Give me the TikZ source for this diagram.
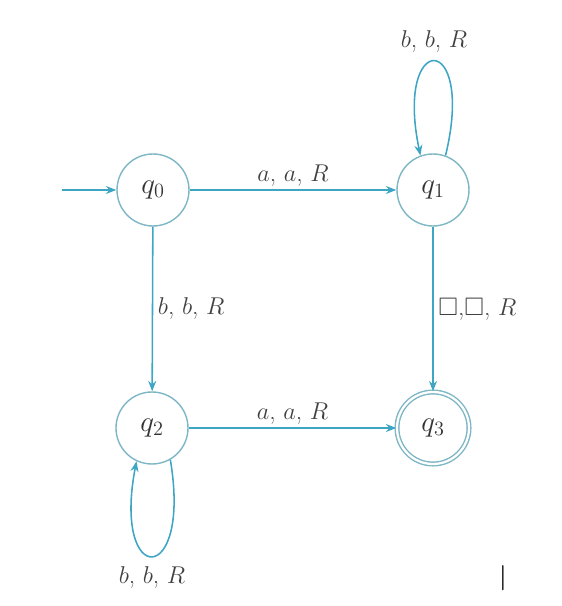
\documentclass[tikz,border=0pt]{standalone}
\usepackage{amssymb}
\usetikzlibrary{arrows.meta}
\definecolor{edgeblue}{RGB}{62,166,196}
\definecolor{ringblue}{RGB}{125,182,196}
\begin{document}
\begin{tikzpicture}[x=0.025cm, y=0.025cm,
        state/.style={circle, draw=ringblue, line width=1pt, minimum size=72*0.025cm, inner sep=0pt, font=\fontsize{21}{24}\selectfont, text=black!80},
        accept/.style={state, double=white, double distance=1.6pt},
        trans/.style={draw=edgeblue, line width=1.1pt, -{Stealth[length=2.6mm, width=2mm]}},
        lbl/.style={font=\fontsize{18}{21}\selectfont, text=black!75}]
    \useasboundingbox (0, 0) rectangle (561, 606);

    \node[state] (q0) at (153, 416) {$q_0$};
    \node[state] (q1) at (433, 416) {$q_1$};
    \node[state] (q2) at (152, 178) {$q_2$};
    \node[accept] (q3) at (433, 178) {$q_3$};
    \coordinate (start) at (62, 416);

    \draw[trans] (start) -- (q0);
    \draw[trans] (q0) -- node[lbl, above, yshift=-1pt] {$a$, $a$, $R$} (q1);
    \draw[trans] (q0) -- node[lbl, right, xshift=0pt] {$b$, $b$, $R$} (q2);
    \draw[trans] (q1) -- node[lbl, right, xshift=0pt] {$\square$,$\square$, $R$} (q3);
    \draw[trans] (q2) -- node[lbl, above, yshift=-1pt] {$a$, $a$, $R$} (q3);

    % loops
    \draw[trans] (q1.70) .. controls (476, 576) and (394, 576) .. (q1.110);
    \node[lbl] (l1) at (434, 564) {$b$, $b$, $R$};
    \draw[trans] (q2.-60) .. controls (192, 18) and (112, 18) .. (q2.-115);
    \node[lbl] (l2) at (152, 28) {$b$, $b$, $R$};

    \node[font=\fontsize{18}{21}\selectfont\bfseries, text=black!85] (mark) at (503, 28) {|};
\end{tikzpicture}
\end{document}
